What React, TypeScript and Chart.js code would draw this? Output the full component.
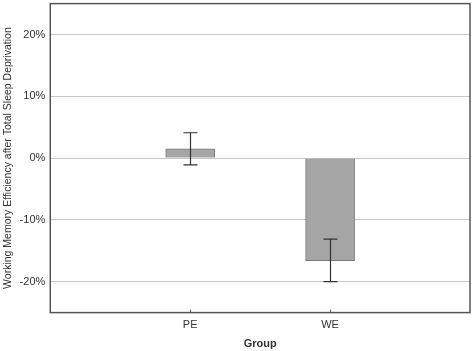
import React, { useEffect, useRef } from "react";
import { Chart, registerables } from "chart.js";

Chart.register(...registerables);

const categories = ["", "PE", "WE", ""];
const meanValues = [null, 1.5, -16.6, null];
const errLow = [null, -1.1, -20.0, null];
const errHigh = [null, 4.1, -13.1, null];
const yTickValues = [-20, -10, 0, 10, 20];

const FONT = "'Liberation Sans', Arial, sans-serif";

const extrasPlugin = {
  id: "extras",
  afterDatasetsDraw(chart: any) {
    const { ctx, chartArea, scales } = chart;
    const x = scales.x;
    const y = scales.y;
    ctx.save();
    // error bars
    ctx.strokeStyle = "#333";
    ctx.lineWidth = 1.2;
    for (let i = 0; i < categories.length; i++) {
      const lo = errLow[i];
      const hi = errHigh[i];
      if (lo == null || hi == null) continue;
      const px = Math.round(x.getPixelForValue(i)) + 0.5;
      const pLo = y.getPixelForValue(lo);
      const pHi = y.getPixelForValue(hi);
      const cap = 7;
      ctx.beginPath();
      ctx.moveTo(px, pLo);
      ctx.lineTo(px, pHi);
      ctx.moveTo(px - cap, pLo);
      ctx.lineTo(px + cap, pLo);
      ctx.moveTo(px - cap, pHi);
      ctx.lineTo(px + cap, pHi);
      ctx.stroke();
    }
    // border
    ctx.strokeStyle = "#555";
    ctx.lineWidth = 1.5;
    ctx.strokeRect(
      chartArea.left,
      chartArea.top,
      chartArea.right - chartArea.left,
      chartArea.bottom - chartArea.top
    );
    // x tick marks inside
    ctx.lineWidth = 1;
    for (let i = 0; i < categories.length; i++) {
      if (!categories[i]) continue;
      const px = Math.round(x.getPixelForValue(i)) + 0.5;
      ctx.beginPath();
      ctx.moveTo(px, chartArea.bottom);
      ctx.lineTo(px, chartArea.bottom - 3);
      ctx.stroke();
    }
    ctx.restore();
  },
};

export default function App() {
  const ref = useRef<HTMLCanvasElement | null>(null);
  useEffect(() => {
    if (!ref.current) return;
    const chart = new Chart(ref.current, {
      type: "bar",
      data: {
        labels: categories,
        datasets: [
          {
            data: meanValues as any,
            backgroundColor: "#a5a5a5",
            borderColor: "#7a7a7a",
            borderWidth: 1,
            barThickness: 49,
          },
        ],
      },
      options: {
        animation: false,
        responsive: false,
        maintainAspectRatio: false,
        layout: { padding: { top: -7, right: 0, left: 0, bottom: 0 } },
        plugins: {
          legend: { display: false },
          tooltip: { enabled: false },
        },
        scales: {
          x: {
            offset: false,
            grid: { display: false, drawTicks: false },
            border: { display: false },
            ticks: {
              font: { family: FONT, size: 11 },
              color: "#333",
              padding: 6,
              maxRotation: 0,
              autoSkip: false,
            },
            title: {
              display: true,
              text: "Group",
              font: { family: FONT, size: 11, weight: "bold" },
              color: "#333",
              padding: { top: 0, bottom: 0 },
            },
          },
          y: {
            min: -25,
            max: 25,
            afterBuildTicks: (scale: any) => {
              scale.ticks = yTickValues.map((v) => ({ value: v }));
            },
            grid: { color: "#c8c8c8", drawTicks: false, lineWidth: 1 },
            border: { display: false },
            ticks: {
              font: { family: FONT, size: 11 },
              color: "#333",
              padding: 5,
              callback: (v: any) => v + "%",
            },
            title: {
              display: true,
              text: "Working Memory Efficiency after Total Sleep Deprivation",
              font: { family: FONT, size: 10.5 },
              color: "#333",
              padding: { top: 2, bottom: 0 },
            },
          },
        },
      },
      plugins: [extrasPlugin],
    });
    return () => chart.destroy();
  }, []);
  return (
    <div
      style={{
        position: "fixed",
        left: 0,
        top: 0,
        width: 474,
        height: 351,
        overflow: "hidden",
        background: "#fff",
      }}
    >
      <canvas
        ref={ref}
        width={476}
        height={359}
        style={{ position: "absolute", left: 0, top: -8 }}
      />
    </div>
  );
}
